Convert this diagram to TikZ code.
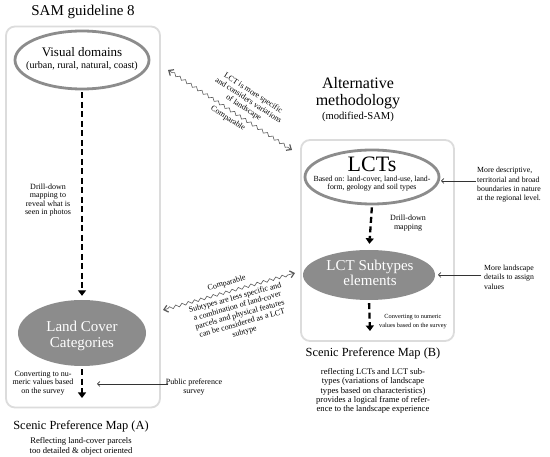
\documentclass[tikz,border=0pt]{standalone}
\usepackage{fontspec}
\setmainfont{Liberation Serif}
\usetikzlibrary{shapes.geometric,arrows.meta,decorations.pathmorphing}
\definecolor{ellgray}{HTML}{8C8C8C}
\definecolor{boxgray}{HTML}{DCDCDC}
\definecolor{wavegray}{HTML}{5A5A5A}
\begin{document}
\begin{tikzpicture}[x=1pt,y=-1pt,
  frame/.style={draw=boxgray, line width=1.8pt, rounded corners=9pt, inner sep=0pt},
  ringell/.style={ellipse, draw=ellgray, line width=2.8pt, fill=white, inner sep=0pt},
  solidell/.style={ellipse, fill=ellgray, inner sep=0pt},
  drill/.style={line width=2.3pt, dash pattern=on 6pt off 3.5pt, -{Triangle[width=8pt,length=5.5pt]}},
  wavy/.style={draw=wavegray, line width=0.6pt, decorate,
    decoration={snake, amplitude=1.4pt, segment length=6.5pt, pre length=5pt, post length=5pt},
    {Straight Barb[length=4pt,width=7pt,line width=1.2pt]}-{Straight Barb[length=4pt,width=7pt,line width=1.2pt]}},
  thinarrow/.style={draw=black!80, line width=0.6pt, -{Straight Barb[length=2.5pt,width=5pt]}},
  small/.style={font=\fontsize{8}{8.6}\selectfont, align=center, inner sep=0pt},
  smallL/.style={font=\fontsize{7.8}{9.4}\selectfont, align=left, inner sep=0pt},
  wlab/.style={font=\fontsize{8}{8.8}\selectfont, align=center, inner sep=0pt, sloped},
  title/.style={font=\fontsize{15}{16}\selectfont, inner sep=0pt},
  eltext/.style={text=white, inner sep=0pt, align=center, font=\fontsize{15}{15.5}\selectfont}
]
\useasboundingbox[fill=white] (0,0) rectangle (550,457);

% ---------- left column ----------
\node[title] (tA) at (83,12) {SAM guideline 8};
\node[frame, minimum width=154pt, minimum height=381pt] (boxA) at (83,217) {};

\node[ringell, minimum width=134pt, minimum height=58pt] (vis) at (82,60) {};
\node[inner sep=0pt, font=\fontsize{13}{14}\selectfont] (vist) at (82,52) {Visual domains};
\node[inner sep=0pt, font=\fontsize{10}{11}\selectfont] (viss) at (82,66) {(urban, rural, natural, coast)};

\node[solidell, minimum width=128pt, minimum height=66pt] (lc) at (82,333) {};
\node[eltext] (lct) at (82,336) {Land Cover\\Categories};

\draw[drill, shorten <=2pt, shorten >=4pt] (vis.south) -- (lc.north);
\node[small] (dd1) at (48,200) {Drill-down\\mapping to\\reveal what is\\seen in photos};

\coordinate (lcout) at (82,398);
\draw[drill, shorten <=3pt] (lc.south) -- (lcout);
\node[small] (conv1) at (43,383) {Converting to nu-\\meric values based\\on the survey};

\node[small] (pub) at (194,387) {Public preference\\survey};
\coordinate (pubA) at (168,384);
\coordinate (pubB) at (97,384);
\draw[thinarrow] (pubA) -- (pubB);

\node[inner sep=0pt, font=\fontsize{12.4}{13}\selectfont] (spA) at (81,426) {Scenic Preference Map (A)};
\node[inner sep=0pt, font=\fontsize{8.6}{10}\selectfont, align=center] (spAs) at (81,446) {Reflecting land-cover parcels\\too detailed \& object oriented};

% ---------- right column ----------
\node[inner sep=0pt, align=center, font=\fontsize{16}{17}\selectfont] (tB) at (358,93) {Alternative\\methodology};
\node[inner sep=0pt, font=\fontsize{10.6}{11}\selectfont] (tBs) at (358,117) {(modified-SAM)};

\node[frame, minimum width=153pt, minimum height=201pt] (boxB) at (377.5,240.5) {};

\node[ringell, minimum width=134pt, minimum height=54pt] (lcts) at (372,177) {};
\node[inner sep=0pt, font=\fontsize{22}{22}\selectfont] (lctst) at (372,164) {LCTs};
\node[inner sep=0pt, align=center, font=\fontsize{7.8}{8}\selectfont] (lctss) at (372,184) {Based on: land-cover, land-use, land-\\form, geology and soil types};

\node[solidell, minimum width=132pt, minimum height=50pt] (sub) at (369,275) {};
\node[eltext] (subt) at (370,273) {LCT Subtypes\\elements};

\draw[drill, shorten <=2pt, shorten >=6pt] (lcts.south) -- (sub.north);
\node[small] (dd2) at (408,223) {Drill-down\\mapping};

\coordinate (subout) at (370,331);
\draw[drill, shorten <=3pt] (sub.south) -- (subout);
\node[inner sep=0pt, align=center, font=\fontsize{6.3}{9}\selectfont] (conv2) at (413,322) {Converting to numeric\\values based on the survey};

\node[smallL, anchor=west] (descA) at (477,185) {More descriptive,\\territorial and broad\\boundaries in nature\\at the regional level.};
\coordinate (dA1) at (476,181);
\coordinate (dA2) at (441,181);
\draw[thinarrow] (dA1) -- (dA2);

\node[smallL, anchor=west] (descB) at (484,277) {More landscape\\details to assign\\values};
\coordinate (dB1) at (481,275);
\coordinate (dB2) at (438,275);
\draw[thinarrow] (dB1) -- (dB2);

\node[inner sep=0pt, font=\fontsize{12.4}{13}\selectfont] (spB) at (373,353) {Scenic Preference Map (B)};
\node[inner sep=0pt, font=\fontsize{8.6}{9.3}\selectfont, align=center] (spBs) at (373,391) {reflecting LCTs and LCT sub-\\types (variations of landscape\\types based on characteristics)\\provides a logical frame of refer-\\ence to the landscape experience};

% ---------- wavy comparison arrows ----------
\coordinate (w1s) at (168,70);
\coordinate (w1e) at (292,150);
\draw[wavy] (w1s) -- node[wlab, pos=0.57, above=5pt] {LCT is more specific\\and considers variations\\of landscape}
  node[wlab, pos=0.52, below=4.5pt] {Comparable} (w1e);

\coordinate (w2s) at (163,310);
\coordinate (w2e) at (295,273);
\draw[wavy] (w2s) -- node[wlab, pos=0.5, above=4.5pt] {Comparable}
  node[wlab, pos=0.53, below=4pt] {Subtypes are less specific and\\a combination of land-cover\\parcels and physical features\\can be considered as a LCT\\subtype} (w2e);
\end{tikzpicture}
\end{document}
